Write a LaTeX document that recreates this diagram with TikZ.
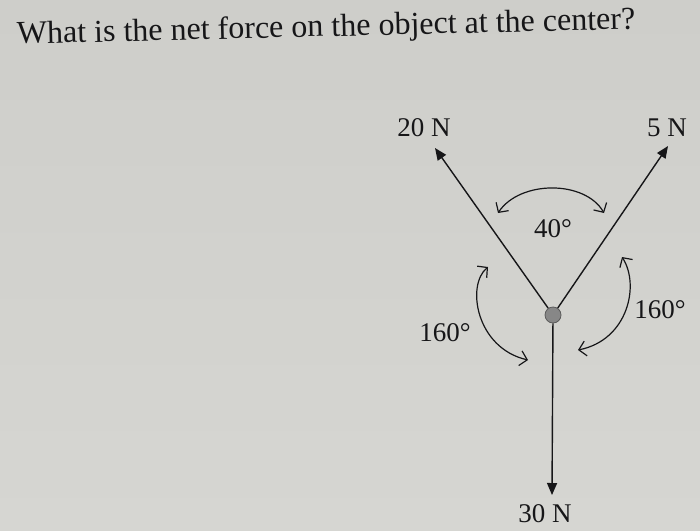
\documentclass[tikz,border=0pt]{standalone}
\usepackage{fontspec}
\setmainfont{Liberation Serif}
\usetikzlibrary{arrows.meta}
\definecolor{ink}{RGB}{22,22,24}
\definecolor{bgtop}{RGB}{206,206,202}
\definecolor{bgbot}{RGB}{214,214,210}
\definecolor{dotfill}{RGB}{135,135,135}
\definecolor{dotline}{RGB}{90,90,90}
\begin{document}
\begin{tikzpicture}[x=1pt,y=-1pt,
  force/.style={line width=1.4pt, draw=ink, -{Triangle[length=12pt,width=10pt]}},
  anglearc/.style={line width=1.2pt, draw=ink, {Straight Barb[length=7pt,width=15pt]}-{Straight Barb[length=7pt,width=15pt]}},
  lbl/.style={font=\fontsize{27}{30}\selectfont, text=ink, inner sep=0pt},
  titlestyle/.style={font=\fontsize{32}{36}\selectfont, text=ink, inner sep=0pt}]
\useasboundingbox (0,0) rectangle (700,530);
\shade[top color=bgtop, bottom color=bgbot] (0,0) rectangle (700,530);
% title
\node[titlestyle, rotate=1.4, anchor=base west] (q) at (17,44) {What is the net force on the object at the center?};
% object
\node[circle, fill=dotfill, draw=dotline, line width=0.8pt, minimum size=16pt, inner sep=0pt] (c) at (553,315) {};
\coordinate (t20) at (435,148);
\coordinate (t5) at (668,146);
\coordinate (t30) at (552,495);
\draw[force] (c) -- (t20);
\draw[force] (c) -- (t5);
\draw[force] (c) -- (t30);
% labels
\node[lbl] (l20) at (424,128) {20 N};
\node[lbl] (l5) at (667,128) {5 N};
\node[lbl] (l30) at (545,514) {30 N};
\node[lbl] (l40) at (553,229) {40°};
\node[lbl] (l160a) at (445,333) {160°};
\node[lbl] (l160b) at (660,310) {160°};
% angle arcs
\coordinate (a1) at (498,213);
\coordinate (a2) at (604,213);
\coordinate (b1) at (488,267);
\coordinate (b2) at (528,360);
\coordinate (d1) at (622,257);
\coordinate (d2) at (578,350);
\draw[anglearc] (a1) .. controls (520,180) and (585,180) .. (a2);
\draw[anglearc] (b1) .. controls (466,285) and (476,348) .. (b2);
\draw[anglearc] (d1) .. controls (640,285) and (628,340) .. (d2);
\end{tikzpicture}
\end{document}
